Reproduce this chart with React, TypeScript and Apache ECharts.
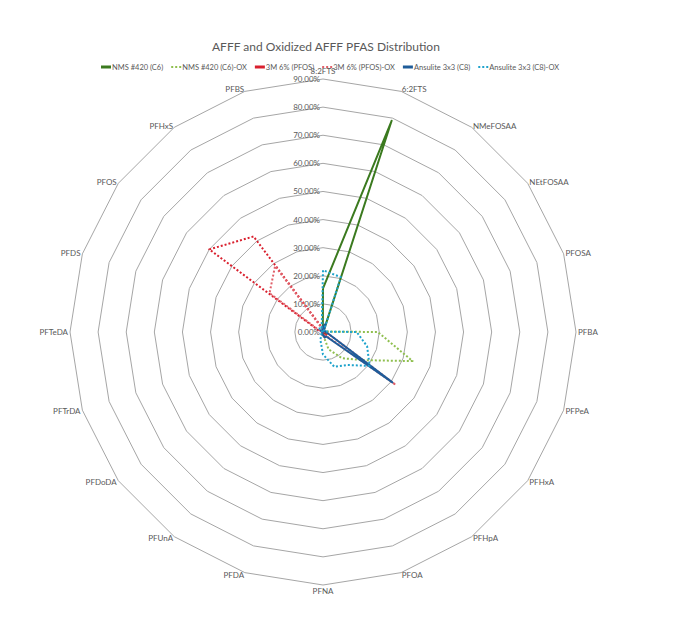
import React, { useEffect, useRef } from "react";
import * as echarts from "echarts";

// indicators in clockwise order starting at the top
const indicators = [
  "8:2FTS", "6:2FTS", "NMeFOSAA", "NEtFOSAA", "PFOSA", "PFBA", "PFPeA", "PFHxA", "PFHpA", "PFOA",
  "PFNA", "PFDA", "PFUnA", "PFDoDA", "PFTrDA", "PFTeDA", "PFDS", "PFOS", "PFHxS", "PFBS",
];

const seriesNames = [
  "NMS #420 (C6)",
  "NMS #420 (C6)-OX",
  "3M 6% (PFOS)",
  "3M 6% (PFOS)-OX",
  "Ansulite 3x3 (C8)",
  "Ansulite 3x3 (C8)-OX",
];

// values in percent, same order as indicators
const nms420 = [15.5, 79, 0.3, 0.2, 0.2, 0.5, 1.0, 1.5, 0.5, 0.5, 0.2, 0.1, 0, 0, 0, 0, 0, 0.5, 0.3, 0.2];
const nms420Ox = [1, 1, 0, 0, 0.5, 19.5, 33.5, 17, 11.5, 6.5, 1, 0.5, 0, 0, 0, 0, 0, 0.5, 0.5, 0.3];
const m3Pfos = [1, 2, 0, 0, 0.5, 0.5, 1, 1.5, 1, 2, 0.5, 0.5, 0, 0, 0, 0, 1.5, 50, 42, 2];
const m3PfosOx = [1, 1, 0, 0, 0.5, 1, 2, 32, 1.5, 2, 0.5, 0.5, 0, 0, 0, 0, 1, 23.5, 29, 1.5];
const ansulite = [2, 3, 0.5, 0.5, 1, 1, 2, 30.5, 2, 2, 1, 1, 0.5, 0, 0, 0, 0, 1, 0.5, 0.5];
const ansuliteOx = [22, 20.5, 0.5, 0.5, 0.5, 12, 16.5, 20.5, 14.5, 13, 8, 3, 1, 0.5, 0, 0, 0, 1.5, 2, 1.5];

const colors = ["#3b7a1f", "#8fbf4f", "#d9202e", "#e0606a", "#1f5c99", "#1fa3cc"];
const lineTypes = ["solid", "dotted", "dotted", "dotted", "solid", "dotted"];
const legendDotted = [false, true, false, true, false, true];
const allData = [nms420, nms420Ox, m3Pfos, m3PfosOx, ansulite, ansuliteOx];

// ECharts radar runs counter-clockwise; reorder so the chart reads clockwise
const order = indicators.map((_, i) => (i === 0 ? 0 : indicators.length - i));
const reorder = <T,>(arr: T[]) => order.map((k) => arr[k]);

const SOLID_ICON = "path://M0,0h10v3h-10z";
const DOT_ICON = "path://M0,0h2v2h-2z M4,0h2v2h-2z M8,0h2v2h-2z";

export default function App() {
  const ref = useRef<HTMLDivElement>(null);
  useEffect(() => {
    if (!ref.current) return;
    const chart = echarts.init(ref.current, null, { renderer: "svg" });
    const font = "Lato, 'DejaVu Sans', sans-serif";
    chart.setOption({
      animation: false,
      backgroundColor: "#ffffff",
      title: {
        text: "AFFF and Oxidized AFFF PFAS Distribution",
        left: 199,
        top: 27,
        textStyle: { fontFamily: font, fontSize: 12, fontWeight: "normal", color: "#595959" },
      },
      legend: {
        top: 50,
        left: 88,
        itemWidth: 10,
        itemHeight: 3,
        itemGap: 8,
        textStyle: { fontFamily: font, fontSize: 7.5, color: "#595959", padding: [0, 0, 0, -4] },
        data: seriesNames.map((n, i) => ({
          name: n,
          icon: legendDotted[i] ? DOT_ICON : SOLID_ICON,
          itemStyle: { color: colors[i] },
        })),
      },
      radar: {
        center: [315, 324],
        radius: 253,
        startAngle: 90,
        shape: "polygon",
        splitNumber: 9,
        nameGap: 2,
        axisName: { fontFamily: font, fontSize: 8, color: "#595959" },
        axisLine: { show: false },
        axisTick: { show: false },
        axisLabel: { show: false },
        splitArea: { show: false },
        splitLine: { lineStyle: { color: "#a6a6a6", width: 1 } },
        indicator: reorder(indicators).map((name, i) => ({
          name,
          min: 0,
          max: 90,
          ...(i === 0
            ? {
                axisLabel: {
                  show: true,
                  fontFamily: font,
                  fontSize: 8,
                  color: "#595959",
                  margin: 3,
                  align: "right",
                  verticalAlign: "middle",
                  formatter: (v: number) => v.toFixed(2) + "%",
                },
              }
            : {}),
        })),
      },
      series: [
        {
          type: "radar",
          symbol: "none",
          data: allData.map((d, i) => ({
            name: seriesNames[i],
            value: reorder(d),
            lineStyle: { color: colors[i], width: 2, type: lineTypes[i] },
            itemStyle: { color: colors[i] },
          })),
        },
      ],
    });
    return () => chart.dispose();
  }, []);
  return <div ref={ref} style={{ width: 700, height: 627 }} />;
}
